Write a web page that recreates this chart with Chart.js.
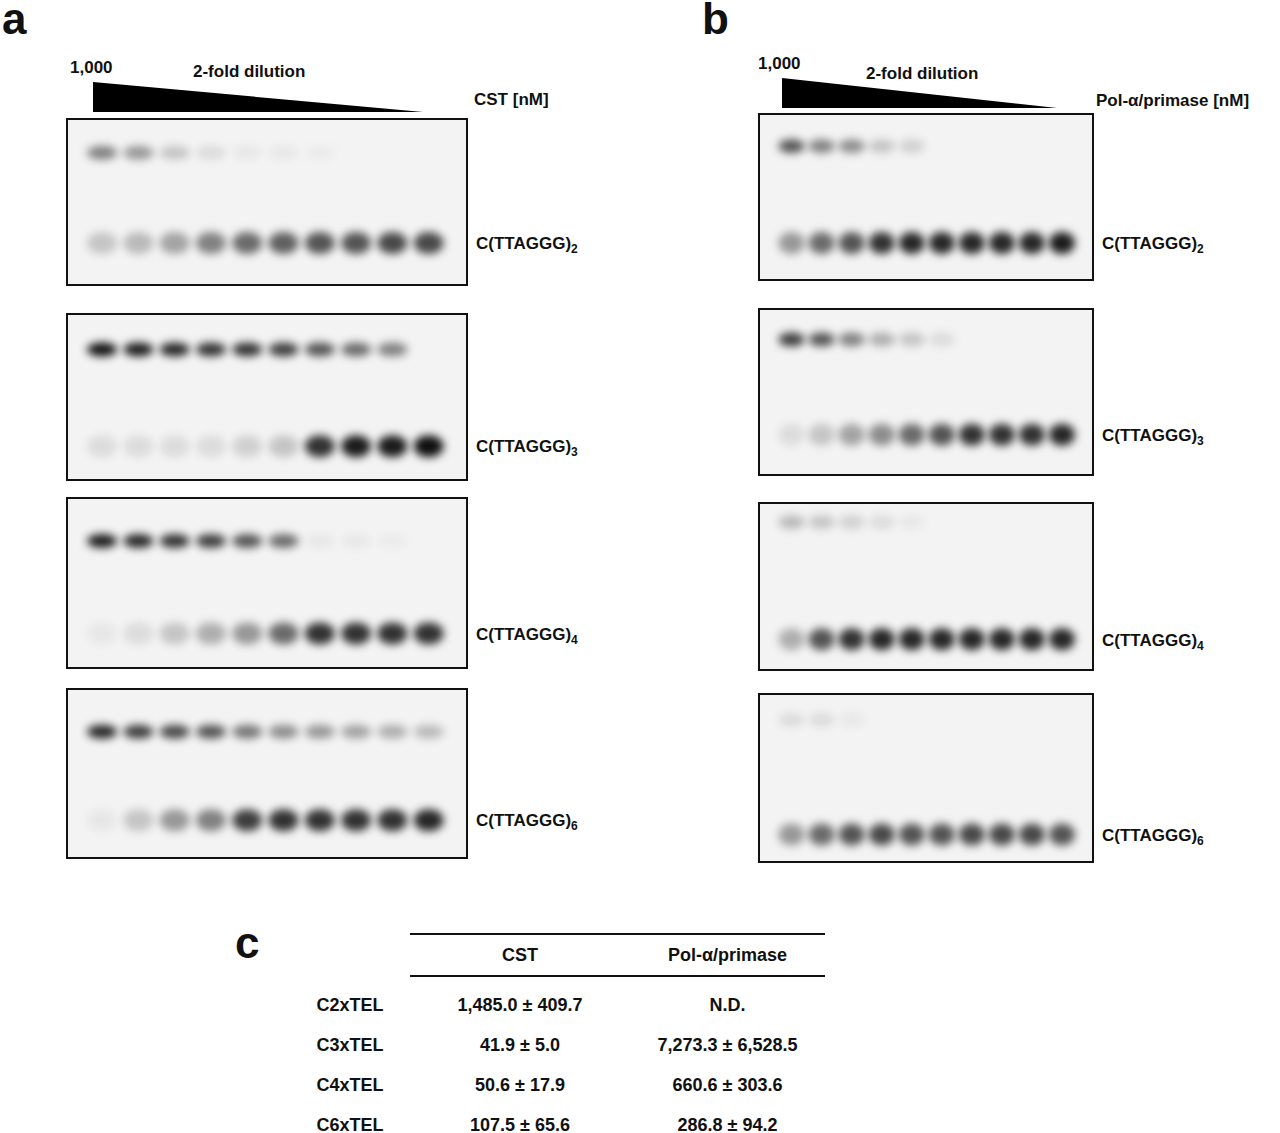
<!DOCTYPE html>
<html><head><meta charset="utf-8">
<script src="https://cdn.jsdelivr.net/npm/chart.js"></script>
<style>
body{margin:0;width:1280px;height:1133px;background:#fff;font-family:Arial,"Liberation Sans",sans-serif;position:relative;overflow:hidden}
.t{position:absolute;font-weight:bold;color:#111;white-space:nowrap}
.gel{position:absolute;border:2px solid #111;background:#f3f3f3;box-sizing:border-box}
.gel canvas{position:absolute;left:0;top:0}
.tri{position:absolute;background:#000}
table{position:absolute;left:410px;top:933px;border-collapse:collapse;font-weight:bold;font-size:18px;color:#111}
td{text-align:center;height:40px;padding:0}
</style></head><body>
<div class="t" style="left:2px;top:-6px;font-size:44px">a</div>
<div class="t" style="left:702px;top:-6px;font-size:44px">b</div>
<div class="t" style="left:235px;top:918px;font-size:44px">c</div>
<div class="t" style="left:70px;top:58px;font-size:17px">1,000</div>
<div class="t" style="left:193px;top:62px;font-size:17px">2-fold dilution</div>
<div class="t" style="left:474px;top:90px;font-size:17px">CST [nM]</div>
<div class="tri" style="left:93px;top:82px;width:330px;height:30px;clip-path:polygon(0 0,100% 100%,0 100%)"></div>
<div class="t" style="left:758px;top:54px;font-size:17px">1,000</div>
<div class="t" style="left:866px;top:64px;font-size:17px">2-fold dilution</div>
<div class="t" style="left:1096px;top:91px;font-size:17px">Pol-α/primase [nM]</div>
<div class="tri" style="left:782px;top:78px;width:275px;height:30px;clip-path:polygon(0 0,100% 100%,0 100%)"></div>
<div id="root"></div>
<table>
<tr style="border-top:2px solid #111;border-bottom:2px solid #111"><td style="width:0"></td><td style="width:220px">CST</td><td style="width:195px">Pol-α/primase</td></tr>
</table>
<table style="left:290px;top:985px" id="tb"></table>
<script>
const lanes=[1,2,3,4,5,6,7,8,9,10];
const labels=["C(TTAGGG)2","C(TTAGGG)3","C(TTAGGG)4","C(TTAGGG)6"];
const cstBound=[[0.5,0.4,0.2,0.1,0.05,0.05,0.03,0,0,0],[1,0.95,0.9,0.85,0.85,0.8,0.7,0.6,0.5,0],[0.95,0.9,0.85,0.8,0.7,0.6,0.05,0.05,0.03,0],[0.9,0.8,0.75,0.7,0.55,0.45,0.4,0.35,0.3,0.25]];
const cstFree=[[0.2,0.25,0.35,0.5,0.6,0.65,0.7,0.7,0.75,0.75],[0.1,0.1,0.1,0.1,0.15,0.2,0.85,0.95,0.95,1],[0.05,0.1,0.2,0.3,0.4,0.6,0.85,0.85,0.85,0.85],[0.05,0.2,0.4,0.5,0.8,0.85,0.85,0.85,0.85,0.9]];
const polBound=[[0.7,0.5,0.45,0.2,0.15,0,0,0,0,0],[0.8,0.7,0.5,0.3,0.2,0.1,0,0,0,0],[0.25,0.2,0.15,0.1,0.05,0,0,0,0,0],[0.1,0.1,0.05,0,0,0,0,0,0,0]];
const polFree=[[0.4,0.6,0.7,0.85,0.9,0.9,0.9,0.9,0.9,0.95],[0.1,0.2,0.35,0.45,0.6,0.7,0.85,0.85,0.85,0.9],[0.3,0.7,0.85,0.9,0.9,0.9,0.9,0.9,0.9,0.9],[0.4,0.6,0.7,0.75,0.7,0.7,0.75,0.75,0.75,0.7]];
const cstBoundPos=[0.2,0.21,0.25,0.25], cstFreePos=[0.75,0.8,0.8,0.78];
const polBoundPos=[0.19,0.18,0.11,0.15], polFreePos=[0.78,0.76,0.82,0.84];
const rows=["C2xTEL","C3xTEL","C4xTEL","C6xTEL"];
const cstKd=["1,485.0 ± 409.7","41.9 ± 5.0","50.6 ± 17.9","107.5 ± 65.6"];
const polKd=["N.D.","7,273.3 ± 6,528.5","660.6 ± 303.6","286.8 ± 94.2"];

const tb=document.getElementById('tb');
rows.forEach((r,i)=>{tb.innerHTML+=`<tr><td style="width:120px">${r}</td><td style="width:220px">${cstKd[i]}</td><td style="width:195px">${polKd[i]}</td></tr>`;});

const bandPlugin={id:'bands',afterDatasetsDraw(chart){
  const ctx=chart.ctx;const bw=chart.options.plugins.bands.w;
  chart.data.datasets.forEach((ds,di)=>{
    chart.getDatasetMeta(di).data.forEach((el,i)=>{
      const v=ds.data[i].v; if(v<=0)return;
      ctx.save();ctx.filter='blur(4px)';
      ctx.fillStyle=`rgba(15,15,15,${v})`;
      ctx.beginPath();ctx.ellipse(el.x,el.y,bw,ds.h,0,0,Math.PI*2);ctx.fill();
      ctx.restore();
    });
  });
}};
function gel(left,top,w,h,bound,free,bp,fp,lab,x0,x1,bw){
  const d=document.createElement('div');d.className='gel';
  Object.assign(d.style,{left:left+'px',top:top+'px',width:w+'px',height:h+'px'});
  const c=document.createElement('canvas');d.appendChild(c);document.getElementById('root').appendChild(d);
  const l=document.createElement('div');l.className='t';
  l.style.cssText=`left:${left+w+8}px;top:${top+h*fp-10}px;font-size:17px`;
  l.innerHTML=lab.replace(/(\d)$/,'<sub style="font-size:12px">$1</sub>');
  document.body.appendChild(l);
  c.width=w-4;c.height=h-4;
  new Chart(c,{type:'scatter',plugins:[bandPlugin],data:{datasets:[
    {h:7,data:lanes.map((x,i)=>({x,y:bp,v:bound[i]})),pointRadius:0},
    {h:11,data:lanes.map((x,i)=>({x,y:fp,v:free[i]})),pointRadius:0}]},
   options:{responsive:false,animation:false,layout:{padding:0},
    plugins:{legend:{display:false},tooltip:{enabled:false},bands:{w:bw}},
    scales:{x:{display:false,min:x0,max:x1},y:{display:false,min:0,max:1,reverse:true}}}});
}
const aT=[118,313,497,688],aH=[168,168,172,171],bT=[113,308,502,693],bH=[168,168,169,170];
for(let i=0;i<4;i++){
  gel(66,aT[i],402,aH[i],cstBound[i],cstFree[i],cstBoundPos[i],cstFreePos[i],labels[i],0.06,11.03,15);
  gel(758,bT[i],336,bH[i],polBound[i],polFree[i],polBoundPos[i],polFreePos[i],labels[i],-0.05,11.0,13);
}
</script></body></html>
